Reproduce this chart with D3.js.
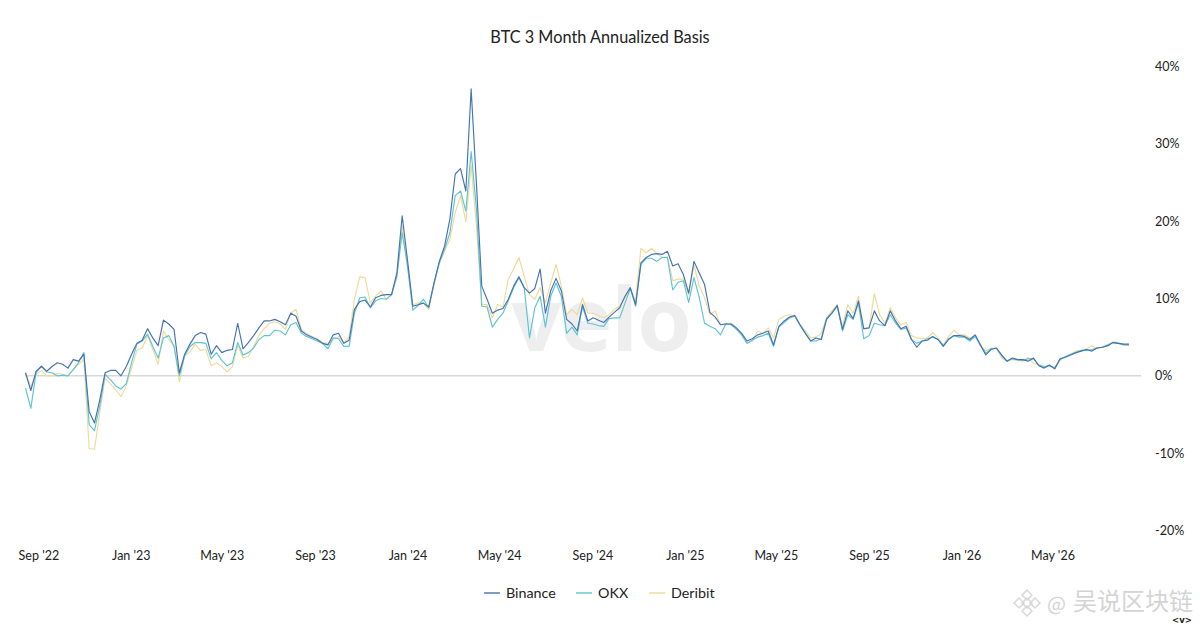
<!DOCTYPE html>
<html><head><meta charset="utf-8">
<script src="https://cdn.jsdelivr.net/npm/d3@7"></script>
<style>
html,body{margin:0;padding:0;background:#fff}
svg{display:block}
text{font-family:"Lato","Noto Sans",sans-serif;fill:#222}
</style></head><body>
<svg id="c" width="1200" height="628"></svg>
<script>
const title = "BTC 3 Month Annualized Basis";
const binance = [0.4,-1.9,0.6,1.2,0.6,1.2,1.7,1.5,1.0,2.1,1.9,2.8,-4.6,-6.1,-3.1,0.4,0.7,0.7,0,1.2,2.8,4.2,4.6,6.1,4.9,3.9,7.2,6.7,6.0,0.4,2.8,4.1,5.2,5.6,5.4,2.8,3.9,3.0,3.3,3.4,6.8,3.5,4.3,5.2,6.2,7.1,7.1,7.3,7.0,6.6,8.1,7.7,5.8,5.3,5.0,4.7,4.2,4.0,5.3,5.5,4.2,4.6,8.6,9.6,9.8,8.9,10.1,10.4,10.5,10.5,13.3,20.7,15,9,9.2,9.4,8.9,12,14.8,16.8,20.3,26.1,26.8,23.9,37.1,24.8,11.6,9.9,8.1,8.5,8.7,9.9,11.6,12.8,11.4,10.7,11.3,13.8,8.1,11,12.6,11.0,7.3,6.7,5.8,9.2,7.1,7.5,7.2,6.9,7.6,8.2,8.8,10.3,11.4,9.2,14.6,15.3,15.7,15.8,15.7,16.1,14.2,14.5,13.1,10.7,14.8,13.3,11.8,8.2,7.6,6.6,6.7,6.7,6.2,5.5,4.5,4.8,5.3,5.5,5.8,4.0,6.4,7.1,7.6,7.8,6.6,5.5,4.5,4.9,4.7,7.3,8.1,9.1,6.0,8.4,7.4,9.7,6.1,6.2,8.4,7.1,6.5,8.4,7.1,6.1,6.4,4.7,3.7,4.5,4.6,5.1,4.7,3.8,4.7,5.2,5.2,5.1,4.7,5.3,4.0,2.7,3.4,3.6,2.7,1.9,2.3,2.1,2.1,1.9,2.3,1.3,1.0,1.4,0.9,2.2,2.4,2.7,3.0,3.2,3.4,3.2,3.6,3.7,3.9,4.3,4.2,4.1,4.1];
const okx = [-1.6,-4.2,0.4,1.3,0.5,0.4,0,0.1,0,0.8,1.7,3.0,-6.3,-7.1,-3.9,0.2,-0.5,-1.3,-1.7,-1,1.7,4.1,4.5,5.4,3.8,2.3,4.9,5.2,3.8,0,2.6,3.8,4.3,4.3,4.2,2.2,3,2,1.3,1.7,4.3,2.7,3,3.6,4.7,5.2,5.2,5.9,5.8,5.3,6.6,6.9,5.5,5.1,4.8,4.5,4.2,3.5,4.9,4.8,3.8,3.8,8.1,10.1,10.2,8.8,9.7,10,9.9,10.5,12.9,18.5,14.2,8.5,9.1,9.9,8.8,12,14.6,16.4,18.5,23.3,23.9,21.3,29,21.6,9,8.9,6.3,7.3,8.1,9.7,11.4,12.7,11.4,4.9,8.8,10.3,6.3,10.3,12,10.3,5.5,6.3,5.3,9,6.8,6.7,6.5,6.4,7.4,7.5,7.5,9.4,11.3,9,14.4,15.2,15.2,14.8,15.3,15.3,11.1,12.1,12.3,9.5,12.7,10.1,6.8,6.4,6.1,5.3,6.7,6.6,6,5.3,4.2,4.6,5,5.2,5.5,3.8,6.3,6.9,7.5,7.7,6.5,5.5,4.5,4.5,4.8,7.5,8.1,9,5.8,7.9,7.3,9.4,4.8,5.2,6.8,6.6,6.5,7.9,6.8,6,6.2,4.7,4.2,4.5,4.8,5,4.7,3.9,4.8,5.2,5,5,4.5,5.1,4,2.9,3.5,3.6,2.6,1.9,2.2,2.1,2,2.2,2.2,1.4,1.2,1.3,1.0,2.1,2.5,2.8,3.0,3.3,3.3,3.4,3.6,3.7,4.0,4.3,4.2,4.0,4.0];
const deribit = [0.4,-1.4,0.2,0.7,0,0,0.3,0.2,0,0.8,1.5,2.1,-9.4,-9.5,-4.8,-0.3,-1,-1.8,-2.7,-1.3,1,3.3,3.6,5.2,3.4,1.5,5.8,4.7,3.8,-0.8,2.6,3.1,4.1,3.3,3.4,1.3,1.7,1.2,0.5,1.2,3.9,2.3,2.5,3.8,5.2,6.1,6.8,7,6.7,6,8.1,8.6,6,5.5,5.1,4.8,4.3,4.2,4.7,5.1,4.2,5.1,9.9,12.8,12.7,9.4,10.3,11,9.9,10.5,12.7,19.4,14.2,9.2,9.4,9.4,8.6,11.8,14.6,16.1,17.7,21.1,23.3,19.9,27.2,19.4,9.2,9.2,7.5,9.2,8.9,12.5,13.8,15.3,12.9,10.5,9.9,11.4,9.4,12,14.4,11.6,7.9,8.6,7.9,10.1,8.1,8.1,7.8,7.5,7.9,8.6,9,10.1,11.2,9.7,16.5,15.9,16.5,15.8,15.3,15.4,12.3,12.5,12.5,10.5,14.3,11.6,10.1,7.9,8.4,6.6,6.8,6.8,6.2,5.3,4.2,4.5,5.8,5.5,6.2,4.9,7.3,7.7,7.9,7.8,6.6,5.8,4.9,5,5.5,7.5,8.4,9.2,6.4,9.2,8.1,10.3,6,6.2,10.6,7.9,6.8,8.8,7.5,6.6,6.9,5.2,4.9,4.8,4.9,5.6,4.9,4,5.1,5.9,5.3,5.3,4.9,5.2,3.8,3.2,3.6,3.5,2.3,1.9,2.1,2,1.9,2.4,1.6,1.5,1.1,1.3,1.1,2.0,2.4,2.8,3.2,3.3,3.5,3.9,3.5,3.8,3.9,4.4,4.3,4.0,3.9];
const xTickDates = ["2022-09-01","2023-01-01","2023-05-01","2023-09-01","2024-01-01","2024-05-01","2024-09-01","2025-01-01","2025-05-01","2025-09-01","2026-01-01","2026-05-01"];
const xTickLabels = ["Sep '22","Jan '23","May '23","Sep '23","Jan '24","May '24","Sep '24","Jan '25","May '25","Sep '25","Jan '26","May '26"];
const yTicks = [40,30,20,10,0,-10,-20];
const seriesNames = ["Binance","OKX","Deribit"];
const seriesColors = ["#4472b2","#5cc4d4","#f0da9a"];

const svg = d3.select("#c");
const parse = d3.utcParse("%Y-%m-%d");
const firstDate = parse("2022-08-15");
const dates = binance.map((_, i) => d3.utcDay.offset(firstDate, i * 7));
const x = d3.scaleUtc().domain([firstDate, dates[dates.length - 1]]).range([25.5, 1129]);
const y = d3.scaleLinear().domain([-20, 40]).range([530.5, 66.5]);

// watermark
svg.append("text").attr("x", 601).attr("y", 351).attr("text-anchor", "middle")
  .style("font-family", '"Open Sans",sans-serif').style("font-size", "88px").style("font-weight", 700)
  .style("letter-spacing", "-1px").style("fill", "#eeeeee").text("velo");

svg.append("text").attr("x", 600).attr("y", 43).attr("text-anchor", "middle")
  .style("font-size", "16.3px").text(title);

svg.append("line").attr("x1", 25).attr("x2", 1141).attr("y1", y(0)).attr("y2", y(0))
  .attr("stroke", "#c4c4c4").attr("stroke-width", 1);

const xAxis = d3.axisBottom(x).tickValues(xTickDates.map(parse))
  .tickFormat((d, i) => xTickLabels[i]).tickSize(0);
const gx = svg.append("g").attr("transform", "translate(0,548)").call(xAxis);
gx.select(".domain").remove();
gx.selectAll("text").style("font-size", "12.5px").style("font-family", '"Lato",sans-serif').style("fill", "#222");

const yAxis = d3.axisRight(y).tickValues(yTicks).tickFormat(d => d + "%").tickSize(0).tickPadding(0);
const gy = svg.append("g").attr("transform", "translate(1155,0)").call(yAxis);
gy.select(".domain").remove();
gy.selectAll("text").style("font-size", "12.5px").style("font-family", '"Lato",sans-serif').style("fill", "#222");

const line = d3.line().x((d, i) => x(dates[i])).y(d => y(d));
[deribit, okx, binance].forEach((vals, k) => {
  svg.append("path").datum(vals).attr("fill", "none")
    .attr("stroke", [seriesColors[2], seriesColors[1], seriesColors[0]][k])
    .attr("stroke-width", 1.15).attr("stroke-linejoin", "round").attr("d", line);
});

// legend
const legendX = [484, 576, 649];
seriesNames.forEach((n, i) => {
  svg.append("line").attr("x1", legendX[i]).attr("x2", legendX[i] + 16).attr("y1", 593).attr("y2", 593)
    .attr("stroke", seriesColors[i]).attr("stroke-width", 1.4);
  svg.append("text").attr("x", legendX[i] + 22).attr("y", 598).style("font-size", "14.3px").text(n);
});

// bottom-right watermark
const wm = svg.append("g");
wm.append("g").attr("transform", "translate(1027,603)").selectAll("rect").data([[0,-8],[-8,0],[8,0],[0,8],[0,0]])
  .join("rect").attr("x", d => d[0] - 3.5).attr("y", d => d[1] - 3.5).attr("width", 7).attr("height", 7)
  .attr("transform", d => `rotate(45 ${d[0]} ${d[1]})`)
  .attr("fill", "none").attr("stroke", "#d9d9d9").attr("stroke-width", 1.5);
wm.append("text").attr("x", 1047).attr("y", 611).style("font-family", '"Noto Sans CJK SC",sans-serif')
  .style("font-size", "20px").style("fill", "#d4d4d4").text("@");
wm.append("text").attr("x", 1073).attr("y", 610).style("font-family", '"Noto Sans CJK SC",sans-serif')
  .style("font-size", "24px").style("fill", "#d4d4d4").text("吴说区块链");
svg.append("text").attr("x", 1182).attr("y", 623).attr("text-anchor", "middle")
  .style("font-family", '"DejaVu Sans",sans-serif').style("font-size", "8.5px").style("font-weight", 700).style("fill", "#222").text("<v>");
</script>
</body></html>
